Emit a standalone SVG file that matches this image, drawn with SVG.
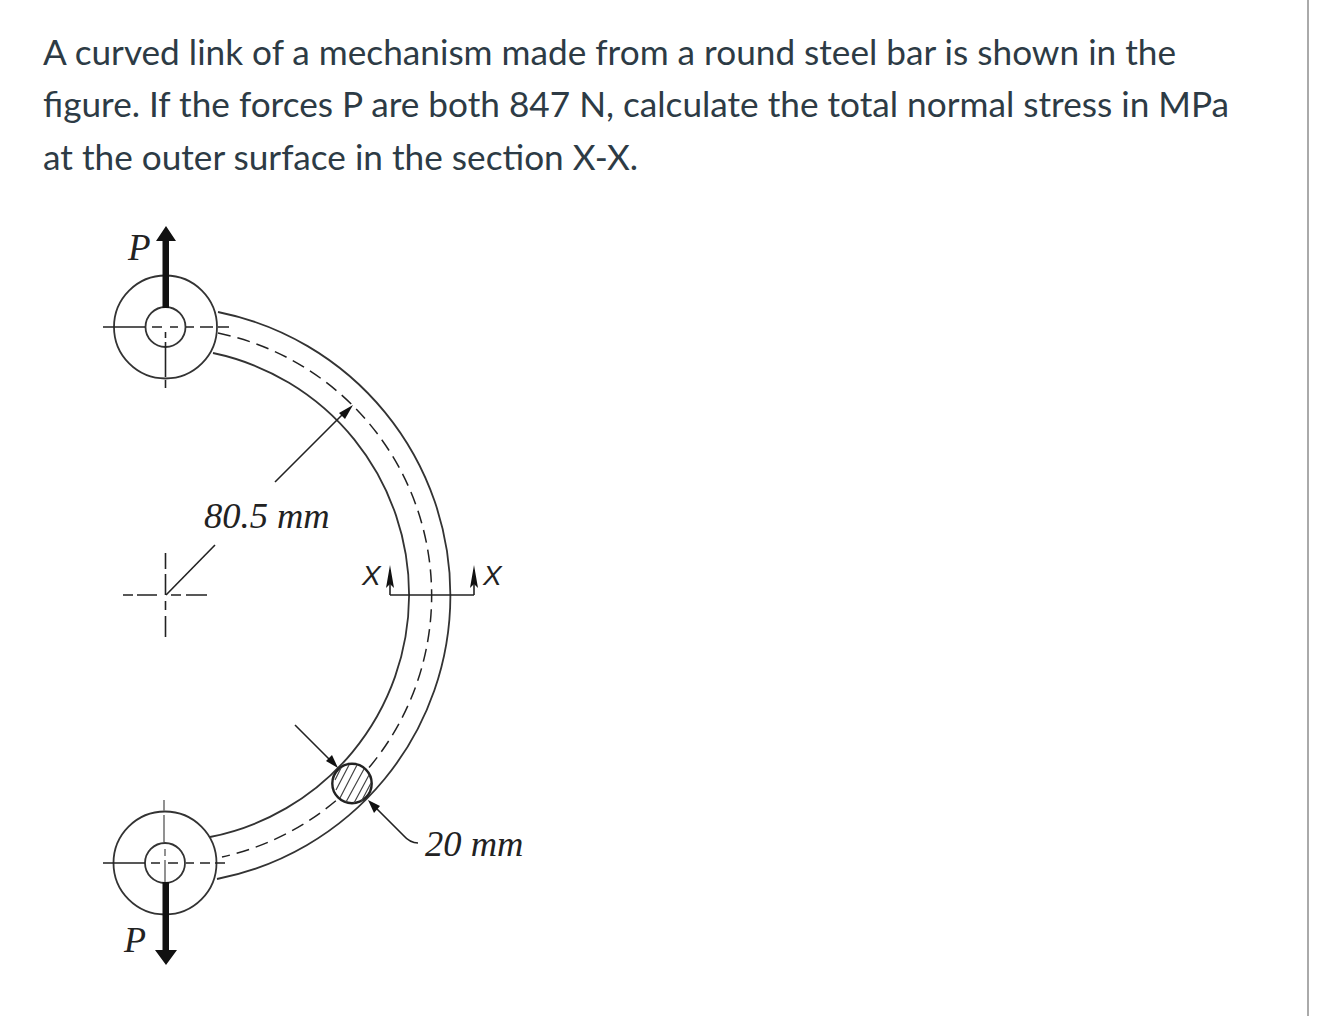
<svg xmlns="http://www.w3.org/2000/svg" width="1338" height="1016" viewBox="0 0 1338 1016">
<style>
.q{font-family:Lato,"Liberation Sans",sans-serif;font-size:35.2px;fill:#2d3b45}
.l{fill:none;stroke:#222;stroke-width:1.6}
.g{fill:none;stroke:#777;stroke-width:1.6}
.d{fill:none;stroke:#222;stroke-width:1.5;stroke-dasharray:13 7}
.c{fill:none;stroke:#333;stroke-width:1.8}
.h{fill:none;stroke:#444;stroke-width:1.2}
.k{fill:#111;stroke:none}
.m{font-family:"Liberation Serif",serif;font-style:italic;fill:#222}
.x{font-family:"Liberation Sans",sans-serif;font-style:italic;fill:#222;font-size:28px}
</style>
<rect width="1338" height="1016" fill="#fff"/>
<line x1="1308" y1="0" x2="1308" y2="1016" stroke="#aaa" stroke-width="2"/>
<g id="question">
<text class="q" x="43" y="65">A curved link of a mechanism made from a round steel bar is shown in the</text>
<text class="q" x="43" y="117">figure. If the forces P are both 847 N, calculate the total normal stress in MPa</text>
<text class="q" x="43" y="170">at the outer surface in the section X-X.</text>
</g>
<g id="curved-link">
<path class="c" d="M218 312 A289 289 0 0 1 217 879"/>
<path class="c" d="M213 353 A247 247 0 0 1 210 837"/>
<path class="d" d="M218 333 A268 268 0 0 1 222 857"/>
</g>
<g id="top-eye">
<circle cx="165.500" cy="327" r="51.500" class="c" fill="#fff"/>
<circle cx="165.500" cy="327" r="20" class="c" fill="#fff"/>
<path class="l" d="M103 327 H145 M152 327 H162 M170 327 H178 M186 327 H194 M200 327 H213 M218 327 H229"/>
<path class="l" d="M165.500 332 V338 M165.500 342 V377 M165.500 380 V388"/>
</g>
<g id="bottom-eye">
<circle cx="165" cy="863" r="51.500" class="c" fill="#fff"/>
<circle cx="165" cy="863" r="20" class="c" fill="#fff"/>
<path class="l" d="M103 863 H145 M151 863 H160 M168 863 H178 M186 863 H194 M200 863 H210 M215 863 H225"/>
<path class="g" d="M164 800 V811 M164 815 V842 M165 849 V856 M165 860 V882"/>
</g>
<g id="cross-section">
<circle cx="352" cy="783.500" r="19.700" fill="#fff" stroke="#222" stroke-width="2.400"/>
<path class="h" d="M341 768 L335 780 M349 765 L336 790 M357 765 L340 798 M364 769 L346 802 M369 775 L354 803 M371 783 L361 802"/>
</g>
<g id="connectors">
<path class="k" d="M162.500 308 H169 V241 H176 L166 226 L156 241 H162.500 Z"/>
<path class="k" d="M162.500 882 H169 V950 H177 L166 965 L155 950 H162.500 Z"/>
<path class="l" d="M275 482 L345 412"/>
<path class="k" d="M353 405 L339 413 L345 419 Z"/>
<path class="l" d="M295 725 L333 763"/>
<path class="k" d="M338 768 L326 761 L332 755 Z"/>
<path class="l" d="M373 805 L403 835 Q410 843 418 843"/>
<path class="k" d="M368 800 L380 806 L374 813 Z"/>
<path class="l" d="M390 595 H474"/>
<path class="l" d="M390 595 V570 M474 595 V570"/>
<path class="k" d="M390 565 L386 588 L390 584 L394 588 Z M474 565 L470 588 L474 584 L478 588 Z"/>
<path class="l" d="M166 595 L215 545"/>
<path class="l" d="M123 595 H133 M137 595 H157 M171 595 H181 M186 595 H207"/>
<path class="l" d="M165.500 553 V569 M165.500 574 V595 M165.500 601 V610 M165.500 616 V637"/>
</g>
<g id="labels">
<text class="m" x="128" y="260" font-size="37">P</text>
<text class="m" x="124" y="952" font-size="36">P</text>
<text class="m" x="204" y="528" font-size="36.500">80.5 mm</text>
<text class="m" x="425" y="856" font-size="36.500">20 mm</text>
<text class="x" x="362" y="585">X</text>
<text class="x" x="483" y="585">X</text>
</g>
</svg>
